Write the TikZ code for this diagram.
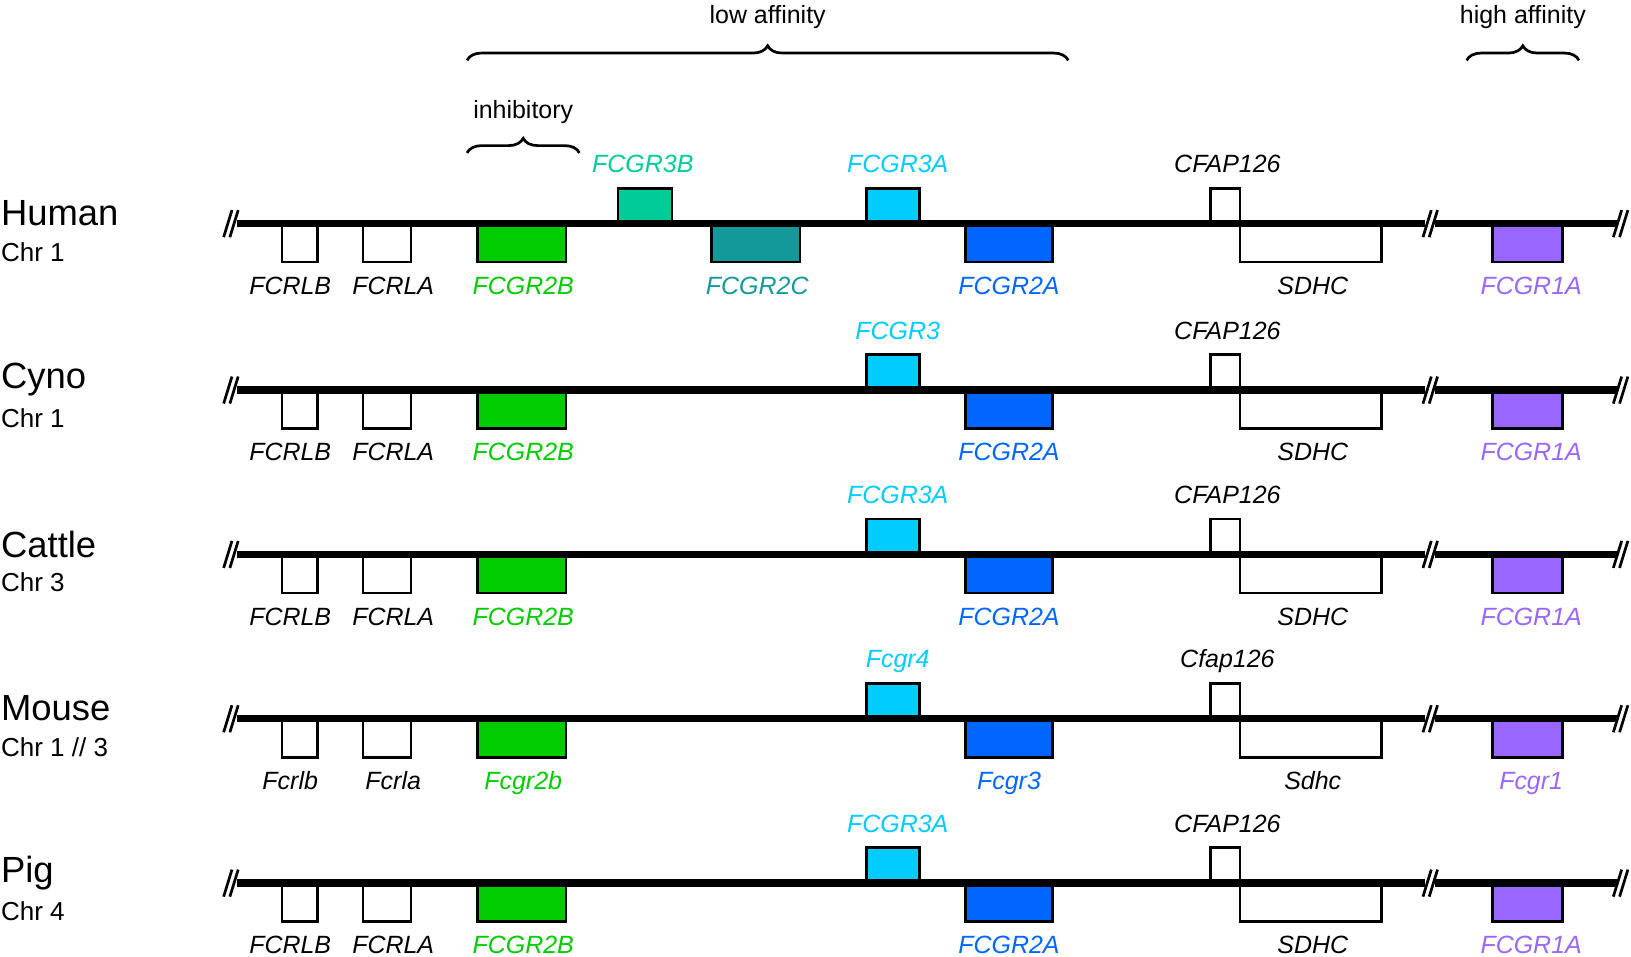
\documentclass[tikz,border=0pt]{standalone}
\usepackage{fontspec}
\setmainfont{Liberation Sans}
\usetikzlibrary{decorations.pathreplacing}
\definecolor{cGreen}{HTML}{00CC00}
\definecolor{cTeal}{HTML}{139999}
\definecolor{cSea}{HTML}{00CC99}
\definecolor{cCyan}{HTML}{00CCFF}
\definecolor{cBlue}{HTML}{0066FF}
\definecolor{cPurple}{HTML}{9966FF}
\tikzset{
  chrom/.style={line width=3.5pt},
  gene/.style={draw,line width=1.3pt},
  glab/.style={font=\fontsize{12}{12}\selectfont\itshape,anchor=center,
    text height=8.6pt,text depth=2.6pt,inner sep=0pt},
  species/.style={font=\fontsize{17.5}{18}\selectfont,anchor=west},
  chr/.style={font=\fontsize{12.5}{13}\selectfont,anchor=west},
  brk/.style={line width=1.3pt},
  brc/.style={line width=1.3pt,decorate,decoration={brace,amplitude=7pt}},
  blab/.style={font=\fontsize{12}{12}\selectfont}
}
\begin{document}
\begin{tikzpicture}[x=0.5pt,y=-0.5pt]
\useasboundingbox (0,0) rectangle (1568,920);
% braces
\draw[brc] (449,58) -- (1027,58) node[midway,above=11pt,blab] (lowaff) {low affinity};
\draw[brc] (1410,58) -- (1518,58) node[midway,above=11pt,blab] (highaff) {high affinity};
\draw[brc] (449,147) -- (557,147) node[midway,above=10pt,blab] (inhib) {inhibitory};
\foreach \y/\sp/\ch/\a/\b/\c/\d/\e/\f/\g/\h [count=\i] in {
  215/Human/Chr 1/FCRLB/FCRLA/FCGR2B/FCGR3A/FCGR2A/CFAP126/SDHC/FCGR1A,
  375/Cyno/Chr 1/FCRLB/FCRLA/FCGR2B/FCGR3/FCGR2A/CFAP126/SDHC/FCGR1A,
  533/Cattle/Chr 3/FCRLB/FCRLA/FCGR2B/FCGR3A/FCGR2A/CFAP126/SDHC/FCGR1A,
  691/Mouse/{Chr 1 // 3}/Fcrlb/Fcrla/Fcgr2b/Fcgr4/Fcgr3/Cfap126/Sdhc/Fcgr1,
  849/Pig/Chr 4/FCRLB/FCRLA/FCGR2B/FCGR3A/FCGR2A/CFAP126/SDHC/FCGR1A} {
  \node[species] (sp\i) at (-6,\y-10) {\sp};
  \node[chr] (ch\i) at (-6,\y+27) {\ch};
  % boxes below the line
  \draw[gene] (271,\y) rectangle (305,\y+37);
  \draw[gene] (349,\y) rectangle (395,\y+37);
  \draw[gene,fill=cGreen] (459,\y) rectangle (544,\y+37);
  \draw[gene,fill=cBlue] (928,\y) rectangle (1012,\y+37);
  \draw[gene] (1192,\y) rectangle (1328,\y+37);
  \draw[gene,fill=cPurple] (1435,\y) rectangle (1502,\y+37);
  % boxes above the line
  \draw[gene,fill=cCyan] (833,\y-34) rectangle (884,\y);
  \draw[gene] (1164,\y-34) rectangle (1192,\y);
  % chromosome line and breaks
  \draw[chrom] (228,\y) -- (1370,\y);
  \draw[chrom] (1380,\y) -- (1555,\y);
  \foreach \bx in {222,1375,1558} {
    \draw[brk] (\bx-7,\y+13) -- (\bx+1,\y-13);
    \draw[brk] (\bx-1,\y+13) -- (\bx+7,\y-13);
  }
  % labels
  \node[glab] (a\i) at (279,\y+62) {\a};
  \node[glab] (b\i) at (378,\y+62) {\b};
  \node[glab,text=cGreen] (c\i) at (503,\y+62) {\c};
  \node[glab,text=cCyan] (d\i) at (863,\y-55) {\d};
  \node[glab,text=cBlue] (e\i) at (970,\y+62) {\e};
  \node[glab] (f\i) at (1180,\y-55) {\f};
  \node[glab] (g\i) at (1262,\y+62) {\g};
  \node[glab,text=cPurple] (h\i) at (1472,\y+62) {\h};
}
% human-only genes
\draw[gene,fill=cSea] (594,181) rectangle (646,215);
\draw[gene,fill=cTeal] (684,215) rectangle (769,252);
\draw[chrom] (228,215) -- (1370,215);
\node[glab,text=cSea] (fcgr3b) at (618,160) {FCGR3B};
\node[glab,text=cTeal] (fcgr2c) at (728,277) {FCGR2C};
\end{tikzpicture}
\end{document}
